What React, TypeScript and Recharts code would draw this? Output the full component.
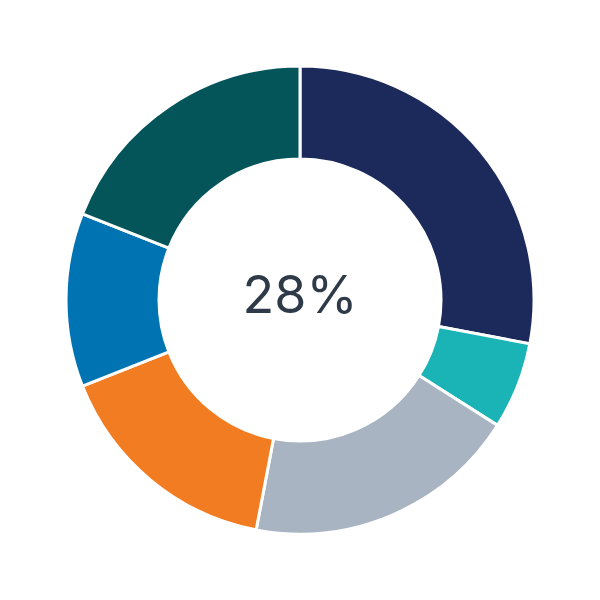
import React from "react";
import { PieChart, Pie, Cell, Label } from "recharts";

const categories = ["Navy", "Teal", "Gray", "Orange", "Blue", "Green"];
const values = [28, 6, 19, 16, 12, 19];
const colors = ["#1b2a5a", "#1ab3b6", "#a9b4c3", "#f27c21", "#0073b2", "#03555a"];
const centerLabel = "28%";

const data = categories.map((name, i) => ({ name, value: values[i] }));

const CenterText = (props: any) => {
  const vb = props.viewBox || {};
  const cx = vb.cx ?? 295;
  const cy = vb.cy ?? 295;
  return (
    <text
      x={cx + 5}
      y={cy - 1}
      textAnchor="middle"
      dominantBaseline="central"
      fill="#2e3a48"
      style={{ fontFamily: "Inter, 'Open Sans', sans-serif", fontSize: 52, fontWeight: 400 }}
    >
      {centerLabel}
    </text>
  );
};

export default function App() {
  return (
    <div style={{ width: 600, height: 600, margin: -8, background: "#fff" }}>
      <PieChart width={600} height={600}>
        <Pie
          data={data}
          dataKey="value"
          nameKey="name"
          cx={295}
          cy={295}
          innerRadius={141}
          outerRadius={234}
          startAngle={90}
          endAngle={-270}
          stroke="#ffffff"
          strokeWidth={3}
          isAnimationActive={false}
        >
          {data.map((d, i) => (
            <Cell key={d.name} fill={colors[i]} />
          ))}
          <Label position="center" content={<CenterText />} />
        </Pie>
      </PieChart>
    </div>
  );
}
